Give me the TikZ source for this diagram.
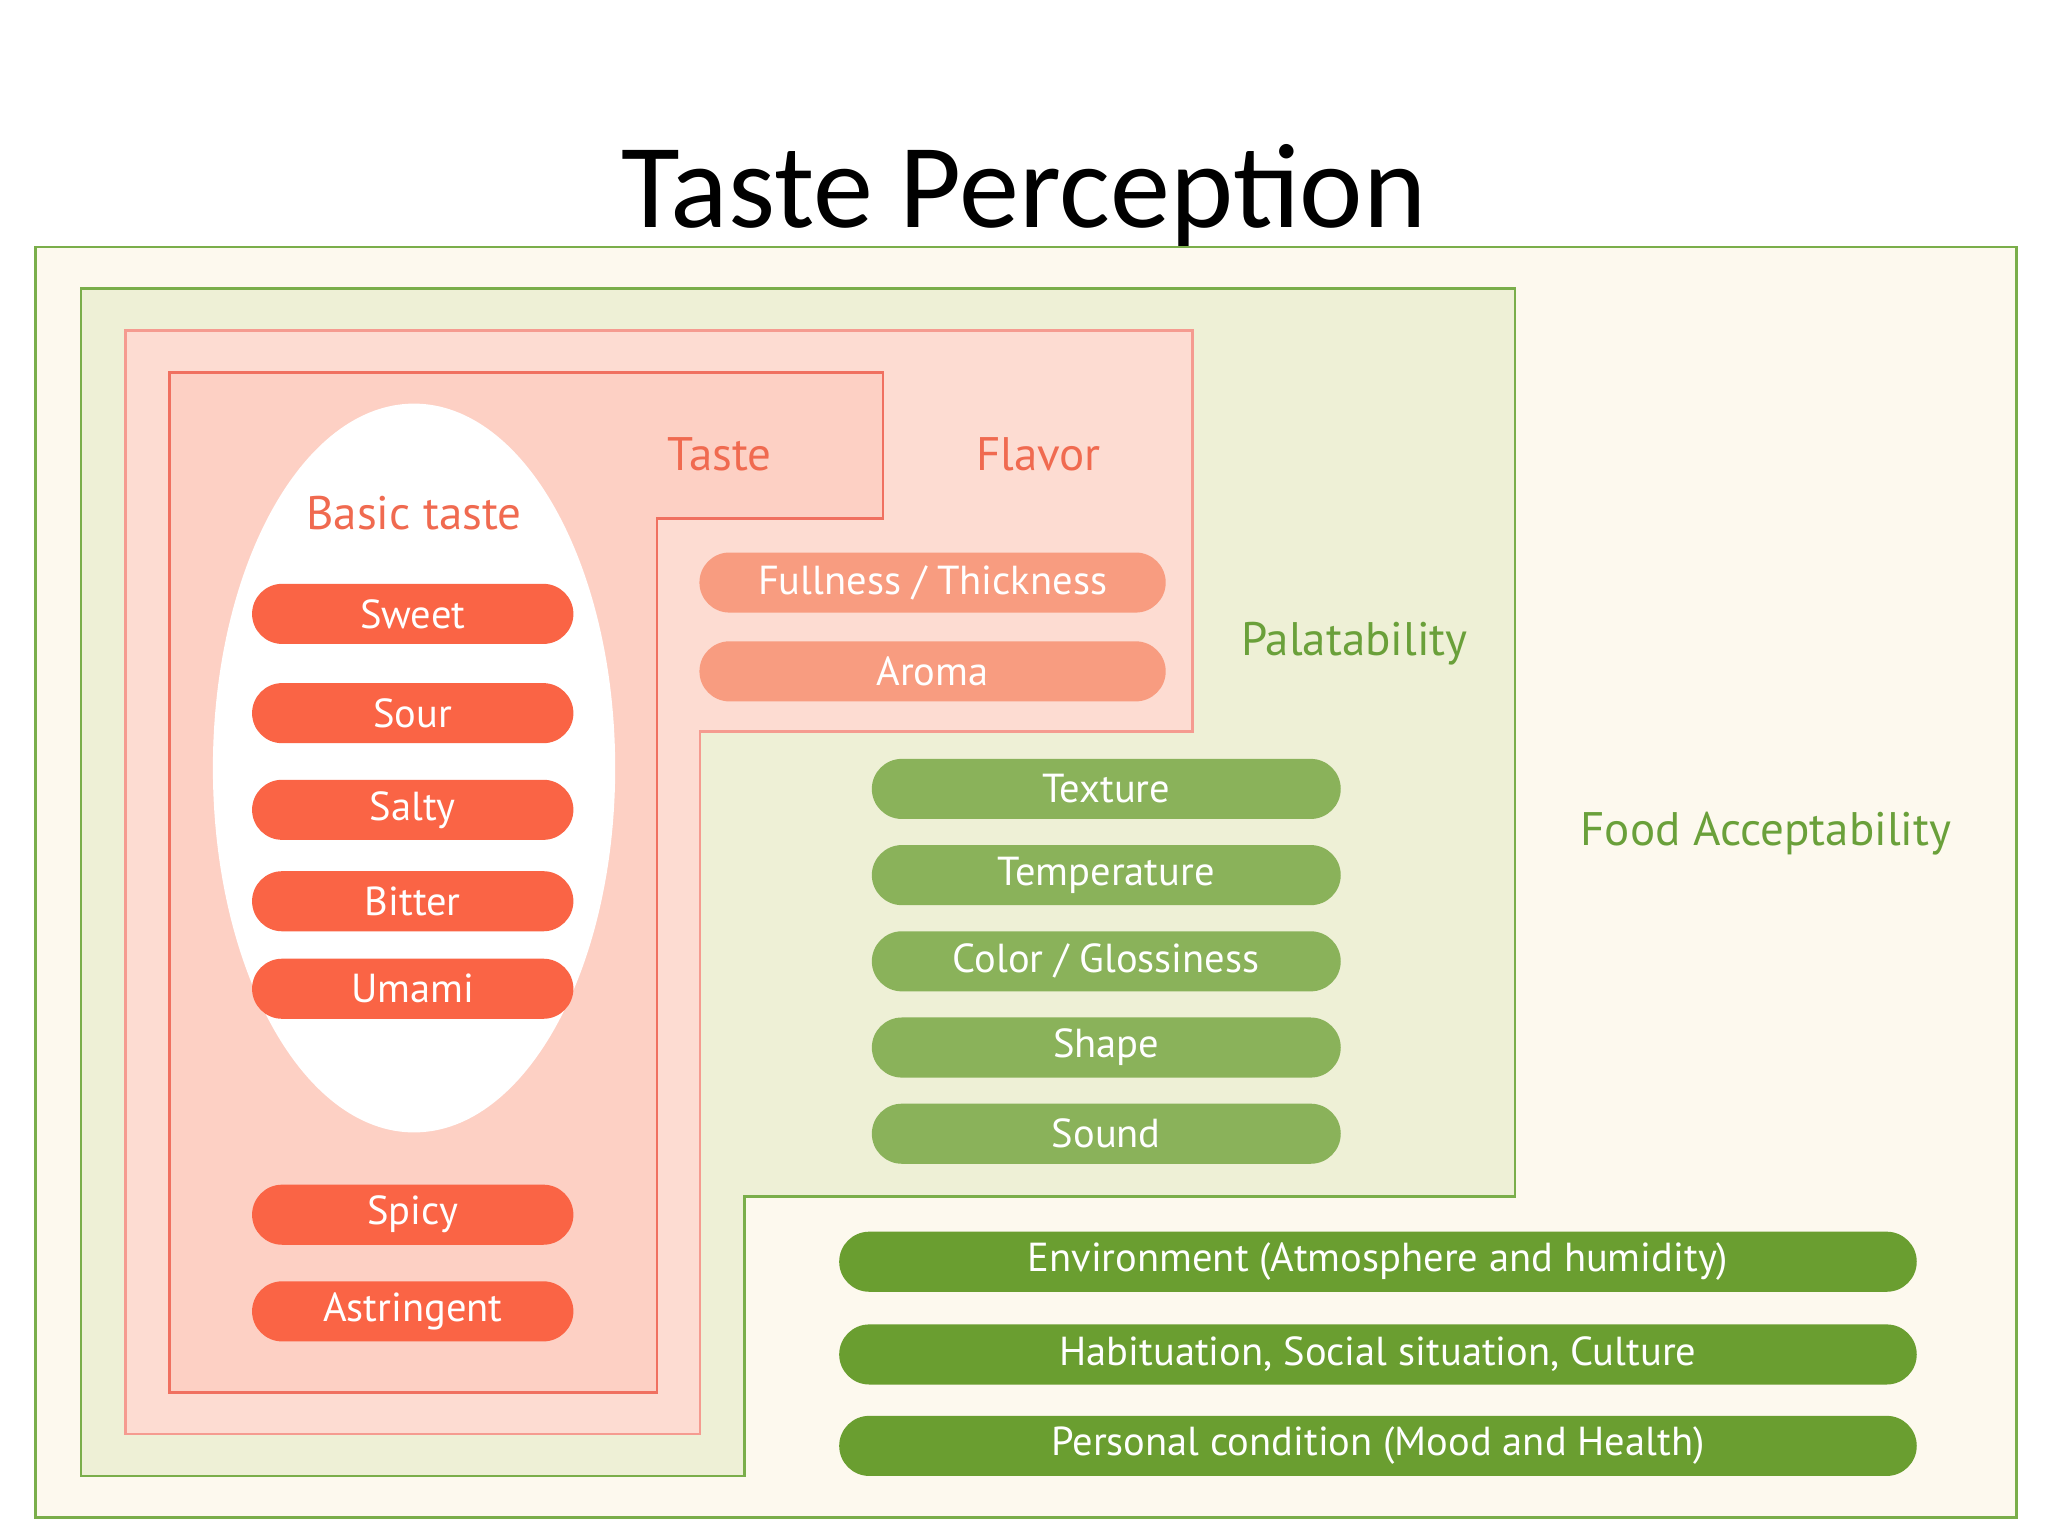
\documentclass[tikz,border=0pt]{standalone}
\usepackage{fontspec}
\setmainfont{PT Sans}
\newfontfamily\titlefont{Carlito}
\definecolor{cream}{HTML}{FDF9EE}
\definecolor{palfill}{HTML}{EEF0D6}
\definecolor{gborder}{HTML}{7AAE4A}
\definecolor{flfill}{HTML}{FDDCD2}
\definecolor{tafill}{HTML}{FDD0C4}
\definecolor{rborder}{HTML}{F07060}
\definecolor{redpill}{HTML}{FA6445}
\definecolor{salpill}{HTML}{F89C80}
\definecolor{lgpill}{HTML}{8AB25A}
\definecolor{dgpill}{HTML}{6A9E30}
\definecolor{redtext}{HTML}{F06A50}
\definecolor{gtext}{HTML}{6AA03A}
\tikzset{
 pill/.style={rounded corners=23pt, minimum height=46pt, text=white, font=\fontsize{31}{31}\selectfont, inner sep=0pt},
 lbl/.style={font=\fontsize{36}{36}\selectfont}
}
\begin{document}
\begin{tikzpicture}[x=1pt,y=-1pt]
\useasboundingbox (0,0) rectangle (1568,1176);
\node[font=\titlefont\fontsize{92}{92}\selectfont] (title) at (784,150) {Taste Perception};
\draw[gborder, line width=2pt, fill=cream] (27,189) rectangle (1544,1162);
\draw[gborder, line width=2pt, fill=palfill] (62,221) -- (1160,221) -- (1160,916) -- (570,916) -- (570,1130) -- (62,1130) -- cycle;
\draw[rborder!70, line width=2pt, fill=flfill] (96,253) -- (913,253) -- (913,560) -- (536,560) -- (536,1098) -- (96,1098) -- cycle;
\draw[rborder, line width=2pt, fill=tafill] (130,285) -- (676,285) -- (676,397) -- (503,397) -- (503,1066) -- (130,1066) -- cycle;
\fill[white] (317,588) ellipse [x radius=154pt, y radius=279pt];
\node[lbl, text=redtext] (basic) at (317,393) {Basic taste};
\node[lbl, text=redtext] (taste) at (551,348) {Taste};
\node[lbl, text=redtext] (flavor) at (795,348) {Flavor};
\node[lbl, text=gtext] (pal) at (1037,493) {Palatability};
\node[lbl, text=gtext] (food) at (1352,638) {Food Acceptability};
\foreach \t/\y [count=\i] in {Sweet/470,Sour/546,Salty/620,Bitter/690,Umami/757,Spicy/930,Astringent/1004}
  \node[pill, fill=redpill, minimum width=246pt] (r\i) at (316,\y) {\t};
\node[pill, fill=salpill, minimum width=357pt] (full) at (714,446) {Fullness / Thickness};
\node[pill, fill=salpill, minimum width=357pt] (aroma) at (714,514) {Aroma};
\foreach \t/\y [count=\i] in {Texture/604,Temperature/670,{Color {/} Glossiness}/736,Shape/802,Sound/868}
  \node[pill, fill=lgpill, minimum width=359pt] (g\i) at (847,\y) {\t};
\foreach \t/\y [count=\i] in {Environment (Atmosphere and humidity)/966,{Habituation, Social situation, Culture}/1037,Personal condition (Mood and Health)/1107}
  \node[pill, fill=dgpill, minimum width=825pt] (d\i) at (1055,\y) {\t};
\end{tikzpicture}
\end{document}
